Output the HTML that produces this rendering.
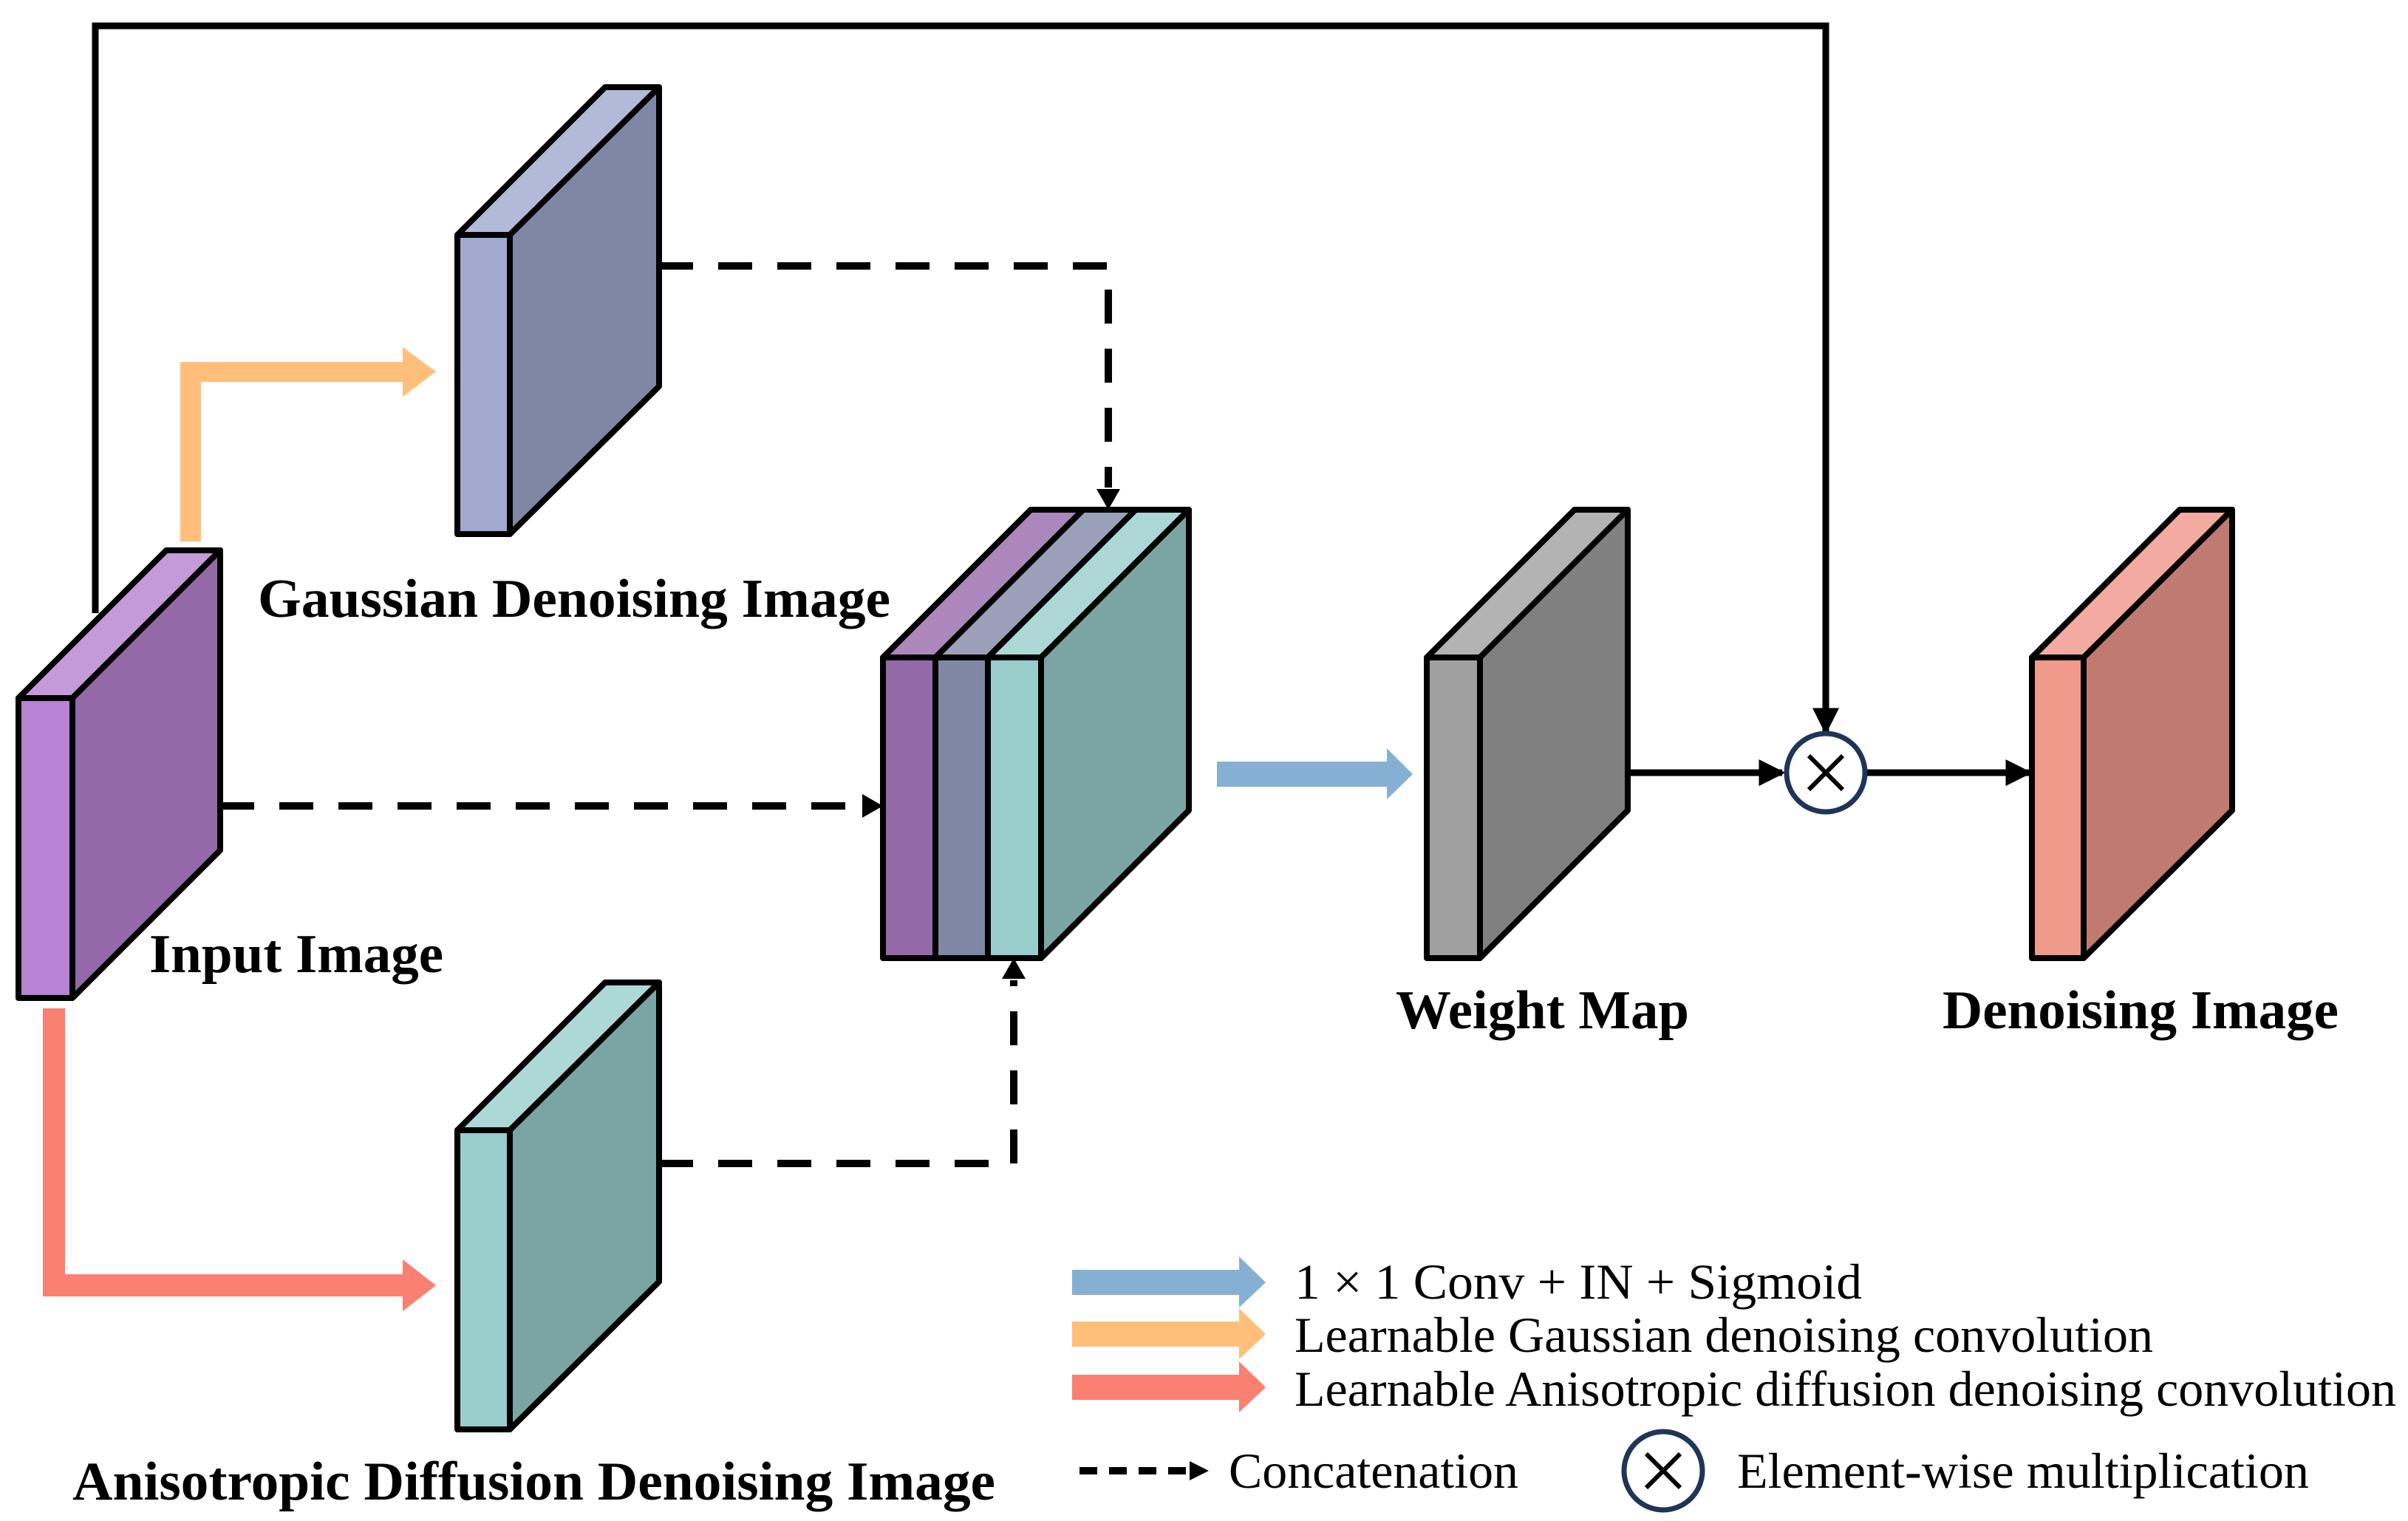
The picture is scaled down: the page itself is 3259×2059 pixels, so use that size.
<!DOCTYPE html>
<html><head><meta charset="utf-8"><style>html,body{margin:0;padding:0;background:#fff}svg{display:block}text{font-family:"Liberation Serif","Times New Roman",serif}</style></head>
<body>
<svg width="3259" height="2059" viewBox="0 0 3259 2059" xmlns="http://www.w3.org/2000/svg" style="font-family:'Liberation Serif',serif">
<defs>
<marker id="ah" markerWidth="4" markerHeight="4" refX="3.5" refY="2" orient="auto" markerUnits="strokeWidth"><path d="M0,0 L4,2 L0,4 z" fill="#000"/></marker>
</defs>
<g fill="none" stroke="#000" stroke-width="9">
<polyline points="129,830 129,35 2471,35 2471,990" marker-end="url(#ah)"/>
<line x1="2203" y1="1046" x2="2412" y2="1046" marker-end="url(#ah)"/>
<line x1="2527" y1="1046" x2="2746" y2="1046" marker-end="url(#ah)"/>
</g>
<g fill="none" stroke="#000" stroke-width="10" stroke-dasharray="46,34">
<polyline points="892,360 1500,360 1500,660"/>
<line x1="298" y1="1091" x2="1165" y2="1091"/>
<polyline points="892,1575 1372,1575 1372,1327"/>
</g>
<path d="M1484,662 L1516,662 L1500,690 z"/>
<path d="M1167,1075 L1167,1107 L1195,1091 z"/>
<path d="M1356,1325 L1388,1325 L1372,1297 z"/>
<path d="M244,733 L244,490 L545,490 L545,470 L590,503 L545,537 L545,517 L272,517 L272,733 z" fill="#ffbf7a"/>
<path d="M58,1365 L88,1365 L88,1725 L545,1725 L545,1705 L590,1740 L545,1775 L545,1755 L58,1755 z" fill="#fa8072"/>
<path d="M1647,1031 L1877,1031 L1877,1013 L1912,1048 L1877,1082 L1877,1065 L1647,1065 z" fill="#85b0d4"/>
<g stroke="#000" stroke-width="8" stroke-linejoin="round">
<polygon points="25,945 225,745 298,745 98,945" fill="#c59ad8"/>
<polygon points="98,945 298,745 298,1151 98,1351" fill="#9469a8"/>
<rect x="25" y="945" width="73" height="406" fill="#b783d2"/>
<polygon points="619,318 819,118 892,118 690,318" fill="#b3bad8"/>
<polygon points="690,318 892,118 892,523 690,723" fill="#8087a5"/>
<rect x="619" y="318" width="71" height="405" fill="#a2a9cf"/>
<polygon points="619,1530 819,1330 892,1330 690,1530" fill="#acd8d6"/>
<polygon points="690,1530 892,1330 892,1735 690,1935" fill="#7aa5a3"/>
<rect x="619" y="1530" width="71" height="405" fill="#98cdcc"/>
<polygon points="1195,890 1395,690 1466,690 1266,890" fill="#ab87bb"/>
<polygon points="1266,890 1466,690 1537,690 1337,890" fill="#9aa0b8"/>
<polygon points="1337,890 1537,690 1609,690 1409,890" fill="#acd8d6"/>
<polygon points="1409,890 1609,690 1609,1097 1409,1297" fill="#7aa5a3"/>
<rect x="1195" y="890" width="71" height="407" fill="#9569a8"/>
<rect x="1266" y="890" width="71" height="407" fill="#8087a5"/>
<rect x="1337" y="890" width="72" height="407" fill="#98cdcc"/>
<polygon points="1931,890 2131,690 2203,690 2003,890" fill="#b3b3b3"/>
<polygon points="2003,890 2203,690 2203,1097 2003,1297" fill="#808080"/>
<rect x="1931" y="890" width="72" height="407" fill="#a0a0a0"/>
<polygon points="2750,890 2950,690 3021,690 2820,890" fill="#f3aaa0"/>
<polygon points="2820,890 3021,690 3021,1097 2820,1297" fill="#c07a70"/>
<rect x="2750" y="890" width="70" height="407" fill="#f09a8c"/>
</g>
<circle cx="2471" cy="1046" r="53" fill="#fff" stroke="#1f3558" stroke-width="7"/>
<path d="M2448,1023 L2494,1069 M2494,1023 L2448,1069" stroke="#000" stroke-width="6"/>
<g font-weight="bold" font-size="74" fill="#000">
<text x="349" y="835" textLength="856" lengthAdjust="spacingAndGlyphs">Gaussian Denoising Image</text>
<text x="202" y="1316" textLength="398" lengthAdjust="spacingAndGlyphs">Input Image</text>
<text x="98" y="2030" textLength="1249" lengthAdjust="spacingAndGlyphs">Anisotropic Diffusion Denoising Image</text>
<text x="1889" y="1392" textLength="397" lengthAdjust="spacingAndGlyphs">Weight Map</text>
<text x="2629" y="1392" textLength="536" lengthAdjust="spacingAndGlyphs">Denoising Image</text>
</g>
<path d="M1451,1719 L1677,1719 L1677,1701 L1713,1736 L1677,1770 L1677,1753 L1451,1753 z" fill="#85b0d4"/>
<path d="M1451,1789 L1677,1789 L1677,1771 L1713,1806 L1677,1840 L1677,1823 L1451,1823 z" fill="#ffbf7a"/>
<path d="M1451,1861 L1677,1861 L1677,1843 L1713,1878 L1677,1912 L1677,1895 L1451,1895 z" fill="#fa8072"/>
<g font-size="68" fill="#000">
<text x="1752" y="1758" textLength="768" lengthAdjust="spacingAndGlyphs">1 × 1 Conv + IN + Sigmoid</text>
<text x="1752" y="1830" textLength="1162" lengthAdjust="spacingAndGlyphs">Learnable Gaussian denoising convolution</text>
<text x="1752" y="1903" textLength="1491" lengthAdjust="spacingAndGlyphs">Learnable Anisotropic diffusion denoising convolution</text>
<text x="1663" y="2014" textLength="392" lengthAdjust="spacingAndGlyphs">Concatenation</text>
<text x="2351" y="2014" textLength="774" lengthAdjust="spacingAndGlyphs">Element-wise multiplication</text>
</g>
<line x1="1461" y1="1991" x2="1610" y2="1991" stroke="#000" stroke-width="10" stroke-dasharray="24,16"/>
<path d="M1610,1978 L1636,1991 L1610,2004 z"/>
<circle cx="2251" cy="1991" r="53" fill="#fff" stroke="#1f3558" stroke-width="7"/>
<path d="M2228,1968 L2274,2014 M2274,1968 L2228,2014" stroke="#000" stroke-width="6"/>
</svg>
</body></html>
